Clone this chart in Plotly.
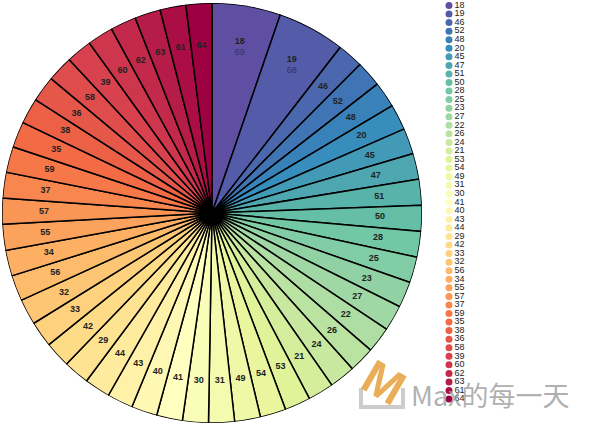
import plotly.graph_objects as go
from plotly.colors import sample_colorscale

labels = ["18", "19", "46", "52", "48", "20", "45", "47", "51", "50", "28", "25", "23", "27",
          "22", "26", "24", "21", "53", "54", "49", "31", "30", "41", "40", "43", "44", "29",
          "42", "33", "32", "56", "34", "55", "57", "37", "59", "35", "38", "36", "58", "39",
          "60", "62", "63", "61", "64"]
values = [69, 68] + [26] * 45

n = len(labels)
colors = sample_colorscale("Spectral_r", [i / (n - 1) for i in range(n)])

texts = []
for lab, val in zip(labels, values):
    if val >= 50:
        texts.append(f"<b>{lab}</b><br><span style='color:rgba(40,35,90,0.8)'>{val}</span>")
    else:
        texts.append(f"<b>{lab}</b>")

# slice angles (clockwise from 12 o'clock), derived from the data
total = sum(values)
mid_theta, widths = [], []
acc = 0
for v in values:
    mid_theta.append((acc + v / 2) / total * 360)
    widths.append(v / total * 360)
    acc += v

W, H = 600, 429
dom = dict(x=[2 / W, 422 / W], y=[(H - 423) / H, (H - 3) / H])

fig = go.Figure()
fig.add_trace(go.Barpolar(
    r=[1] * n, theta=mid_theta, width=widths, base=0,
    marker=dict(color=colors, line=dict(color="black", width=1.5)),
    customdata=values, text=labels,
    hovertemplate="%{text}: %{customdata}<extra></extra>",
    showlegend=False,
))

fig.add_trace(go.Scatterpolar(
    r=[0.8] * n, theta=mid_theta, mode="text", text=texts,
    textfont=dict(family="Liberation Sans, Arial", size=9, color="#222222"),
    showlegend=False, hoverinfo="skip",
))

# custom legend (circles)
fig.add_trace(go.Scatter(
    x=[0] * n, y=list(range(n)), mode="markers+text",
    text=labels, textposition="middle right",
    marker=dict(size=7, color=colors),
    textfont=dict(family="Liberation Sans, Arial", size=9, color="#222222"),
    xaxis="x2", yaxis="y2", showlegend=False, hoverinfo="skip", cliponaxis=False,
))

fig.update_layout(
    width=W, height=H, margin=dict(l=0, r=0, t=0, b=0),
    paper_bgcolor="white", plot_bgcolor="rgba(0,0,0,0)",
    polar=dict(domain=dom, bgcolor="rgba(0,0,0,0)", hole=0,
               radialaxis=dict(range=[0, 1], visible=False, showgrid=False, showline=False,
                               showticklabels=False, ticks=""),
               angularaxis=dict(rotation=90, direction="clockwise", visible=False,
                                showgrid=False, showline=False, showticklabels=False, ticks="")),
    xaxis2=dict(domain=[420 / W, 1], range=[-29, 151], visible=False, fixedrange=True),
    yaxis2=dict(domain=[0, 1], range=[49.5, -0.643], visible=False, fixedrange=True),
)

# watermark
fig.add_shape(type="path", xref="paper", yref="paper",
              path=f"M {361/W} {(H-388)/H} L {361/W} {(H-407)/H} L {403/W} {(H-407)/H} L {403/W} {(H-388)/H}",
              line=dict(color="rgba(195,195,195,0.85)", width=4))
fig.add_annotation(x=384 / W, y=(H - 418) / H, xref="paper", yref="paper", text="<b>M</b>",
                   showarrow=False, textangle=30,
                   font=dict(family="Liberation Sans, Arial", size=48, color="rgba(232,165,70,0.9)"))
fig.add_annotation(x=409 / W, y=(H - 394) / H, xref="paper", yref="paper", xanchor="left",
                   yanchor="middle", text="Max的每一天", showarrow=False,
                   font=dict(family="Noto Sans CJK SC", size=27, color="rgba(155,155,155,0.8)"))

fig.write_html("out.html", config={"displayModeBar": False},
               post_script="document.body.style.margin='0';document.body.style.padding='0';")
